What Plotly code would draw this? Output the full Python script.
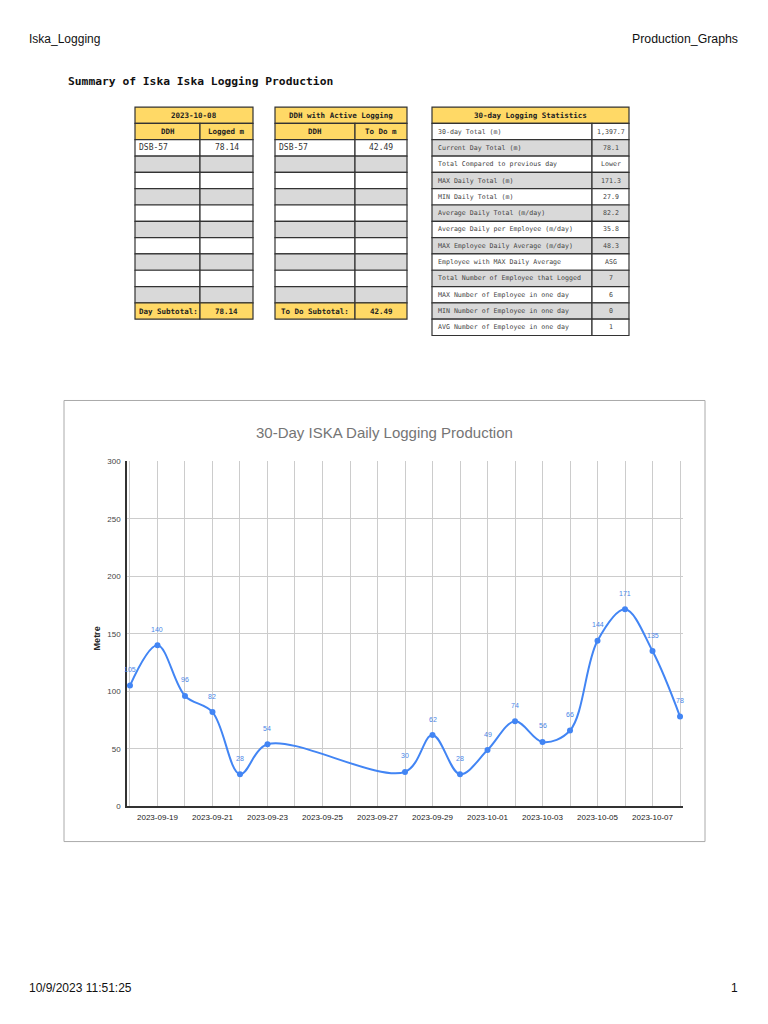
import plotly.graph_objects as go
from datetime import datetime, timedelta

# ---------------- data ----------------
dates = ["2023-09-18", "2023-09-19", "2023-09-20", "2023-09-21", "2023-09-22",
         "2023-09-23", "2023-09-28", "2023-09-29", "2023-09-30", "2023-10-01",
         "2023-10-02", "2023-10-03", "2023-10-04", "2023-10-05", "2023-10-06",
         "2023-10-07", "2023-10-08"]
metres = [105, 140, 96, 82, 28, 54, 30, 62, 27.9, 49, 74, 56, 66, 144, 171.3, 135, 78.1]

day_title = "2023-10-08"
day_cols = ["DDH", "Logged m"]
day_rows = [["DSB-57", "78.14"]] + [["", ""]] * 9
day_subtotal = ["Day Subtotal:", "78.14"]

todo_title = "DDH with Active Logging"
todo_cols = ["DDH", "To Do m"]
todo_rows = [["DSB-57", "42.49"]] + [["", ""]] * 9
todo_subtotal = ["To Do Subtotal:", "42.49"]

stats_title = "30-day Logging Statistics"
stats_labels = ["30-day Total (m)", "Current Day Total (m)", "Total Compared to previous day",
                "MAX Daily Total (m)", "MIN Daily Total (m)", "Average Daily Total (m/day)",
                "Average Daily per Employee (m/day)", "MAX Employee Daily Average (m/day)",
                "Employee with MAX Daily Average", "Total Number of Employee that Logged",
                "MAX Number of Employee in one day", "MIN Number of Employee in one day",
                "AVG Number of Employee in one day"]
stats_values = ["1,397.7", "78.1", "Lower", "171.3", "27.9", "82.2", "35.8", "48.3",
                "ASG", "7", "6", "0", "1"]

page_header = ["Iska_Logging", "Production_Graphs"]
page_footer = ["10/9/2023 11:51:25", "1"]
summary_title = "Summary of Iska Iska Logging Production"
chart_title = "30-Day ISKA Daily Logging Production"
y_title = "Metre"

# ---------------- layout helpers ----------------
W, H = 768, 1024
def X(p): return p / W
def Y(p): return 1 - p / H

YELLOW = "#FFD966"
GRAY = "#D9D9D9"
MONO = "DejaVu Sans Mono, Liberation Mono, monospace"
SANS = "Liberation Sans, Arial, sans-serif"

shapes = []
annos = []

def cell(x0, y0, x1, y1, fill):
    shapes.append(dict(type="rect", xref="paper", yref="paper",
                       x0=X(x0), x1=X(x1), y0=Y(y1), y1=Y(y0),
                       fillcolor=fill, line=dict(color="#333333", width=1.2), layer="above"))

def txt(x, y, s, size=7.5, bold=False, align="center", color="#333", font=MONO):
    if not s:
        return
    annos.append(dict(xref="paper", yref="paper", x=X(x), y=Y(y), text=("<b>%s</b>" % s) if bold else s,
                      showarrow=False, xanchor=align, yanchor="middle",
                      font=dict(family=font, size=size, color=color)))

RH = 16.46
TOP = 104

def two_col_table(x0, xm, x1, title, cols, rows, subtotal, sub_align):
    y = TOP
    cell(x0, y, x1, y + RH, YELLOW); txt((x0 + x1) / 2, y + RH / 2, title, bold=True, color="#222")
    y += RH
    cell(x0, y, xm, y + RH, YELLOW); txt((x0 + xm) / 2, y + RH / 2, cols[0], bold=True, color="#222")
    cell(xm, y, x1, y + RH, YELLOW); txt((xm + x1) / 2, y + RH / 2, cols[1], bold=True, color="#222")
    y += RH
    for i, r in enumerate(rows):
        f = "white" if i % 2 == 0 else GRAY
        cell(x0, y, xm, y + RH, f); txt(x0 + 2, y + RH / 2, r[0], size=8, align="left")
        cell(xm, y, x1, y + RH, f); txt((xm + x1) / 2, y + RH / 2, r[1], size=8)
        y += RH
    cell(x0, y, xm, y + RH, YELLOW)
    if sub_align == "left":
        txt(x0 + 2, y + RH / 2, subtotal[0], bold=True, align="left", color="#222")
    else:
        txt((x0 + xm) / 2, y + RH / 2, subtotal[0], bold=True, color="#222")
    cell(xm, y, x1, y + RH, YELLOW); txt((xm + x1) / 2, y + RH / 2, subtotal[1], bold=True, color="#222")

two_col_table(135, 200, 253, day_title, day_cols, day_rows, day_subtotal, "left")
two_col_table(275, 355, 407, todo_title, todo_cols, todo_rows, todo_subtotal, "center")

# stats table
sx0, sxm, sx1 = 432, 592, 629
y = TOP
cell(sx0, y, sx1, y + RH, YELLOW); txt((sx0 + sx1) / 2, y + RH / 2, stats_title, bold=True, color="#222")
y += RH
for i, (lab, val) in enumerate(zip(stats_labels, stats_values)):
    f = "white" if i % 2 == 0 else GRAY
    cell(sx0, y, sxm, y + RH, f); txt(sx0 + 4, y + RH / 2, lab, size=6.6, align="left", color="#444")
    cell(sxm, y, sx1, y + RH, f); txt((sxm + sx1) / 2, y + RH / 2, val, size=6.6, color="#444")
    y += RH

# page header/footer and summary title
txt(27, 35, page_header[0], size=12, align="left", color="#111", font=SANS)
txt(740, 35, page_header[1], size=12.3, align="right", color="#111", font=SANS)
txt(27, 993, page_footer[0], size=12, align="left", color="#111", font=SANS)
txt(740, 993, page_footer[1], size=12, align="right", color="#111", font=SANS)
txt(66, 78, summary_title, size=11.3, bold=True, align="left", color="#111")

# chart frame
shapes.append(dict(type="rect", xref="paper", yref="paper", x0=X(64), x1=X(705), y0=Y(845), y1=Y(400),
                   fillcolor="rgba(0,0,0,0)", line=dict(color="#AAAAAA", width=1), layer="below"))
txt(384, 432, chart_title, size=15, color="#757575", font=SANS)
annos.append(dict(xref="paper", yref="paper", x=X(90), y=Y(640), text="<b>%s</b>" % y_title,
                  showarrow=False, textangle=-90, font=dict(family=SANS, size=9, color="#222")))

# data labels
for d, v in zip(dates, metres):
    annos.append(dict(x=d, y=v, xref="x", yref="y", text=str(int(round(v))), showarrow=False,
                      yshift=16, font=dict(family=SANS, size=7, color="#4A86E8")))

fig = go.Figure()
fig.add_trace(go.Scatter(x=dates, y=metres, mode="lines+markers",
                         line=dict(color="#4285F4", width=2, shape="spline", smoothing=1.0),
                         marker=dict(color="#4285F4", size=6), showlegend=False, hoverinfo="x+y"))

d0 = datetime(2023, 9, 18) - timedelta(hours=2.6)
d1 = datetime(2023, 10, 8) + timedelta(hours=2.6)

fig.update_layout(
    width=W, height=H, margin=dict(l=0, r=0, t=0, b=0),
    paper_bgcolor="white", plot_bgcolor="white",
    shapes=shapes, annotations=annos, showlegend=False,
    xaxis=dict(domain=[X(127), X(683)], range=[d0, d1], type="date",
               tick0="2023-09-19", dtick=2 * 86400000, tickformat="%Y-%m-%d",
               showgrid=True, gridcolor="#CCCCCC", gridwidth=1,
               minor=dict(dtick=86400000, tick0="2023-09-18", showgrid=True, gridcolor="#CCCCCC"),
               showline=True, linecolor="#333333", linewidth=1.5, ticks="",
               ticklabelstandoff=2,
               tickfont=dict(family=SANS, size=8, color="#222"), zeroline=False),
    yaxis=dict(domain=[Y(809.5), Y(461.3)], range=[0, 300], dtick=50,
               showgrid=True, gridcolor="#CCCCCC", gridwidth=1,
               showline=True, linecolor="#333333", linewidth=1.5, ticks="",
               ticklabelstandoff=3,
               tickfont=dict(family=SANS, size=8, color="#444"), zeroline=False),
)

fig.write_html("out.html",
               post_script="document.body.style.margin='0';document.documentElement.style.overflow='hidden';",
               config={"displayModeBar": False})
